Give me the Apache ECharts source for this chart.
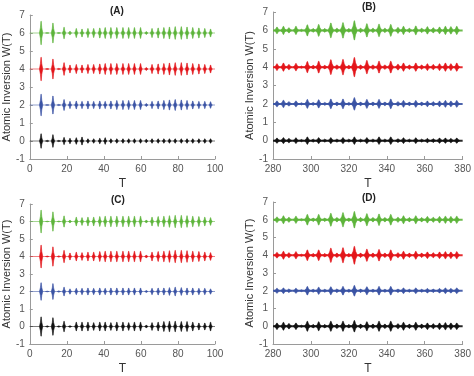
<!DOCTYPE html>
<html>
<head>
<meta charset="utf-8">
<script src="https://cdn.jsdelivr.net/npm/echarts@6/dist/echarts.min.js"></script>
<style>
  html, body { margin: 0; padding: 0; background: #fff; }
  #chart { width: 474px; height: 376px; }
</style>
</head>
<body>
<div id="chart"></div>
<script>
var tLeft = [6.1, 9.4, 12.5, 15.7, 18.5, 21.7, 25.1, 28.2, 31.4, 34.5, 37.8, 40.7, 43.8, 47.0, 50.3,
  53.4, 56.5, 59.8, 62.9, 66.0, 69.3, 72.4, 75.4, 78.5, 81.8, 84.9, 88.0, 91.3, 94.5, 97.6];
var tRight = [282.1, 285.5, 288.4, 292.1, 295.0, 298.1, 301.2, 304.1, 307.3, 310.5, 313.7, 316.9, 320.0,
  322.9, 326.2, 329.5, 332.7, 335.9, 339.0, 342.1, 345.9, 348.8, 351.9, 355.3, 358.4, 361.4, 364.5,
  367.8, 370.9, 373.8, 376.9];

// burst half heights
var aGreen = [0.65, 0.02, 0.55, 0.03, 0.32, 0.1, 0.25, 0.22, 0.25, 0.25, 0.28, 0.3, 0.3, 0.3, 0.3,
  0.3, 0.3, 0.3, 0.08, 0.25, 0.28, 0.3, 0.33, 0.35, 0.35, 0.33, 0.3, 0.28, 0.25, 0.22];
var aRed = [0.65, 0.03, 0.55, 0.04, 0.35, 0.22, 0.25, 0.22, 0.25, 0.25, 0.28, 0.3, 0.3, 0.3, 0.3,
  0.3, 0.3, 0.3, 0.08, 0.25, 0.28, 0.3, 0.33, 0.35, 0.35, 0.33, 0.3, 0.28, 0.25, 0.22];
var aBlue = [0.6, 0.02, 0.5, 0.04, 0.3, 0.2, 0.22, 0.2, 0.22, 0.2, 0.22, 0.2, 0.22, 0.25, 0.25,
  0.25, 0.25, 0.25, 0.08, 0.2, 0.22, 0.25, 0.28, 0.3, 0.28, 0.25, 0.22, 0.2, 0.2, 0.18];
var aBlack = [0.4, 0.04, 0.35, 0.04, 0.2, 0.15, 0.18, 0.22, 0.12, 0.12, 0.15, 0.18, 0.12, 0.12, 0.12,
  0.12, 0.12, 0.12, 0.1, 0.12, 0.12, 0.12, 0.12, 0.12, 0.12, 0.12, 0.12, 0.12, 0.12, 0.12];

var cGreen = [0.65, 0.02, 0.55, 0.03, 0.32, 0.08, 0.25, 0.22, 0.25, 0.25, 0.28, 0.3, 0.3, 0.3, 0.3,
  0.3, 0.3, 0.3, 0.08, 0.25, 0.28, 0.3, 0.33, 0.35, 0.35, 0.33, 0.3, 0.28, 0.25, 0.22];
var cRed = [0.65, 0.03, 0.55, 0.04, 0.35, 0.2, 0.25, 0.22, 0.25, 0.25, 0.28, 0.3, 0.3, 0.3, 0.3,
  0.3, 0.3, 0.3, 0.08, 0.25, 0.28, 0.3, 0.33, 0.35, 0.35, 0.33, 0.3, 0.28, 0.25, 0.22];
var cBlue = [0.5, 0.02, 0.45, 0.04, 0.25, 0.15, 0.18, 0.18, 0.2, 0.18, 0.2, 0.18, 0.2, 0.2, 0.2,
  0.2, 0.2, 0.2, 0.06, 0.18, 0.2, 0.2, 0.22, 0.25, 0.22, 0.2, 0.2, 0.18, 0.18, 0.15];
var cBlack = [0.55, 0.04, 0.5, 0.04, 0.3, 0.05, 0.25, 0.25, 0.25, 0.22, 0.25, 0.25, 0.22, 0.25, 0.25,
  0.22, 0.25, 0.25, 0.08, 0.22, 0.25, 0.28, 0.3, 0.3, 0.28, 0.28, 0.25, 0.2, 0.2, 0.25];

var bGreen = [0.18, 0.22, 0.14, 0.22, 0.06, 0.3, 0.1, 0.32, 0.1, 0.4, 0.12, 0.42, 0.1, 0.52, 0.12, 0.36,
  0.12, 0.34, 0.12, 0.32, 0.16, 0.22, 0.12, 0.24, 0.12, 0.2, 0.14, 0.18, 0.22, 0.2, 0.22];
var bRed = [0.18, 0.22, 0.14, 0.2, 0.06, 0.3, 0.1, 0.32, 0.1, 0.4, 0.12, 0.42, 0.1, 0.52, 0.12, 0.36,
  0.12, 0.32, 0.12, 0.32, 0.16, 0.22, 0.12, 0.22, 0.12, 0.18, 0.14, 0.18, 0.22, 0.18, 0.22];
var bBlue = [0.16, 0.2, 0.12, 0.16, 0.06, 0.24, 0.08, 0.22, 0.08, 0.26, 0.1, 0.26, 0.08, 0.34, 0.1, 0.24,
  0.1, 0.24, 0.1, 0.26, 0.12, 0.18, 0.1, 0.18, 0.1, 0.15, 0.12, 0.15, 0.18, 0.15, 0.18];
var bBlack = [0.14, 0.16, 0.12, 0.15, 0.06, 0.2, 0.08, 0.16, 0.08, 0.16, 0.08, 0.16, 0.08, 0.2, 0.08, 0.16,
  0.08, 0.2, 0.08, 0.2, 0.1, 0.15, 0.08, 0.15, 0.08, 0.12, 0.1, 0.14, 0.14, 0.12, 0.14];

var dGreen = [0.16, 0.22, 0.14, 0.2, 0.06, 0.3, 0.1, 0.3, 0.1, 0.36, 0.12, 0.4, 0.1, 0.46, 0.12, 0.34,
  0.12, 0.32, 0.12, 0.3, 0.14, 0.22, 0.12, 0.22, 0.12, 0.18, 0.14, 0.18, 0.2, 0.18, 0.2];
var dRed = [0.16, 0.22, 0.14, 0.2, 0.06, 0.3, 0.1, 0.3, 0.1, 0.4, 0.12, 0.42, 0.1, 0.5, 0.12, 0.34,
  0.12, 0.32, 0.12, 0.3, 0.14, 0.22, 0.12, 0.22, 0.12, 0.18, 0.14, 0.18, 0.2, 0.18, 0.2];
var dBlue = [0.14, 0.16, 0.1, 0.14, 0.05, 0.24, 0.08, 0.2, 0.08, 0.22, 0.1, 0.24, 0.08, 0.3, 0.1, 0.22,
  0.08, 0.24, 0.08, 0.24, 0.1, 0.16, 0.08, 0.16, 0.08, 0.13, 0.1, 0.13, 0.16, 0.13, 0.16];
var dBlack = [0.18, 0.22, 0.15, 0.18, 0.06, 0.28, 0.1, 0.25, 0.1, 0.28, 0.12, 0.28, 0.1, 0.32, 0.12, 0.25,
  0.12, 0.28, 0.12, 0.28, 0.14, 0.22, 0.12, 0.22, 0.12, 0.18, 0.14, 0.18, 0.2, 0.18, 0.18];

var offsets = [0, 2, 4, 6];
var colors = ['#111111', '#3a53a4', '#e3161b', '#5db43a'];

var panels = [
  { title: '(A)', t: tLeft, amps: [aBlack, aBlue, aRed, aGreen], xMin: 0, xMax: 100, halfW: 0.9, base: 1,
    grid: { left: 22, top: 15, width: 193, height: 144 }, titlePos: { left: 105, top: 1 }, nameGap: 10 },
  { title: '(B)', t: tRight, amps: [bBlack, bBlue, bRed, bGreen], xMin: 280, xMax: 380, halfW: 1.6, base: 2,
    grid: { left: 273, top: 12, width: 192, height: 147 }, titlePos: { left: 357, top: -3 }, nameGap: 8 },
  { title: '(C)', t: tLeft, amps: [cBlack, cBlue, cRed, cGreen], xMin: 0, xMax: 100, halfW: 0.9, base: 1,
    grid: { left: 22, top: 204, width: 193, height: 145 }, titlePos: { left: 106, top: 190 }, nameGap: 10 },
  { title: '(D)', t: tRight, amps: [dBlack, dBlue, dRed, dGreen], xMin: 280, xMax: 380, halfW: 1.6, base: 2,
    grid: { left: 273, top: 202, width: 192, height: 147 }, titlePos: { left: 357, top: 188 }, nameGap: 8 }
];

var font = 'Liberation Sans, Arial, sans-serif';
var grids = [], xAxes = [], yAxes = [], titles = [], series = [];

panels.forEach(function (p, i) {
  grids.push(p.grid);
  titles.push({
    text: p.title, left: p.titlePos.left, top: p.titlePos.top,
    textStyle: { fontSize: 10, fontWeight: 'bold', color: '#222', fontFamily: font }
  });
  xAxes.push({
    type: 'value', gridIndex: i, min: p.xMin, max: p.xMax, interval: 20,
    name: 'T', nameLocation: 'middle', nameGap: 19,
    nameTextStyle: { fontSize: 12, color: '#333', fontFamily: font },
    axisLine: { onZero: false, lineStyle: { color: '#9a9a9a' } },
    axisTick: { inside: true, length: 3, lineStyle: { color: '#9a9a9a' } },
    axisLabel: { fontSize: 10, color: '#555', margin: 5, fontFamily: font },
    splitLine: { show: false }
  });
  yAxes.push({
    type: 'value', gridIndex: i, min: -1, max: 7, interval: 1,
    name: 'Atomic Inversion W(T)', nameLocation: 'middle', nameGap: p.nameGap,
    nameTextStyle: { fontSize: 11, color: '#333', fontFamily: font },
    axisLine: { show: true, onZero: false, lineStyle: { color: '#9a9a9a' } },
    axisTick: { show: true, inside: true, length: 3, lineStyle: { color: '#9a9a9a' } },
    axisLabel: { fontSize: 10, color: '#555', margin: 5, fontFamily: font },
    splitLine: { show: false }
  });

  offsets.forEach(function (off, k) {
    var col = colors[k];
    // baseline of the trace
    series.push({
      type: 'line', xAxisIndex: i, yAxisIndex: i, symbol: 'none', silent: true,
      data: [[p.xMin, off], [p.xMax, off]],
      lineStyle: { color: col, width: p.base, opacity: p.base > 1 ? 0.9 : 0.55 }
    });
    // bursts
    var data = p.t.map(function (t, j) { return [t, p.amps[k][j]]; });
    series.push({
      type: 'custom', xAxisIndex: i, yAxisIndex: i, silent: true, clip: true,
      encode: { x: 0, y: 1 },
      data: data,
      renderItem: function (params, api) {
        var t = api.value(0), a = api.value(1), w = p.halfW;
        var pts = [
          [t - w, off], [t - w * 0.4, off + a * 0.45], [t - w * 0.08, off + a],
          [t + w * 0.08, off + a], [t + w * 0.4, off + a * 0.45], [t + w, off],
          [t + w * 0.4, off - a * 0.45], [t + w * 0.08, off - a],
          [t - w * 0.08, off - a], [t - w * 0.4, off - a * 0.45]
        ].map(function (q) { return api.coord(q); });
        return {
          type: 'polygon', shape: { points: pts },
          style: { fill: col, stroke: col, lineWidth: 0.6 }
        };
      }
    });
  });
});

var chart = echarts.init(document.getElementById('chart'));
chart.setOption({
  animation: false,
  backgroundColor: '#fff',
  title: titles,
  grid: grids,
  xAxis: xAxes,
  yAxis: yAxes,
  series: series
});
</script>
</body>
</html>
